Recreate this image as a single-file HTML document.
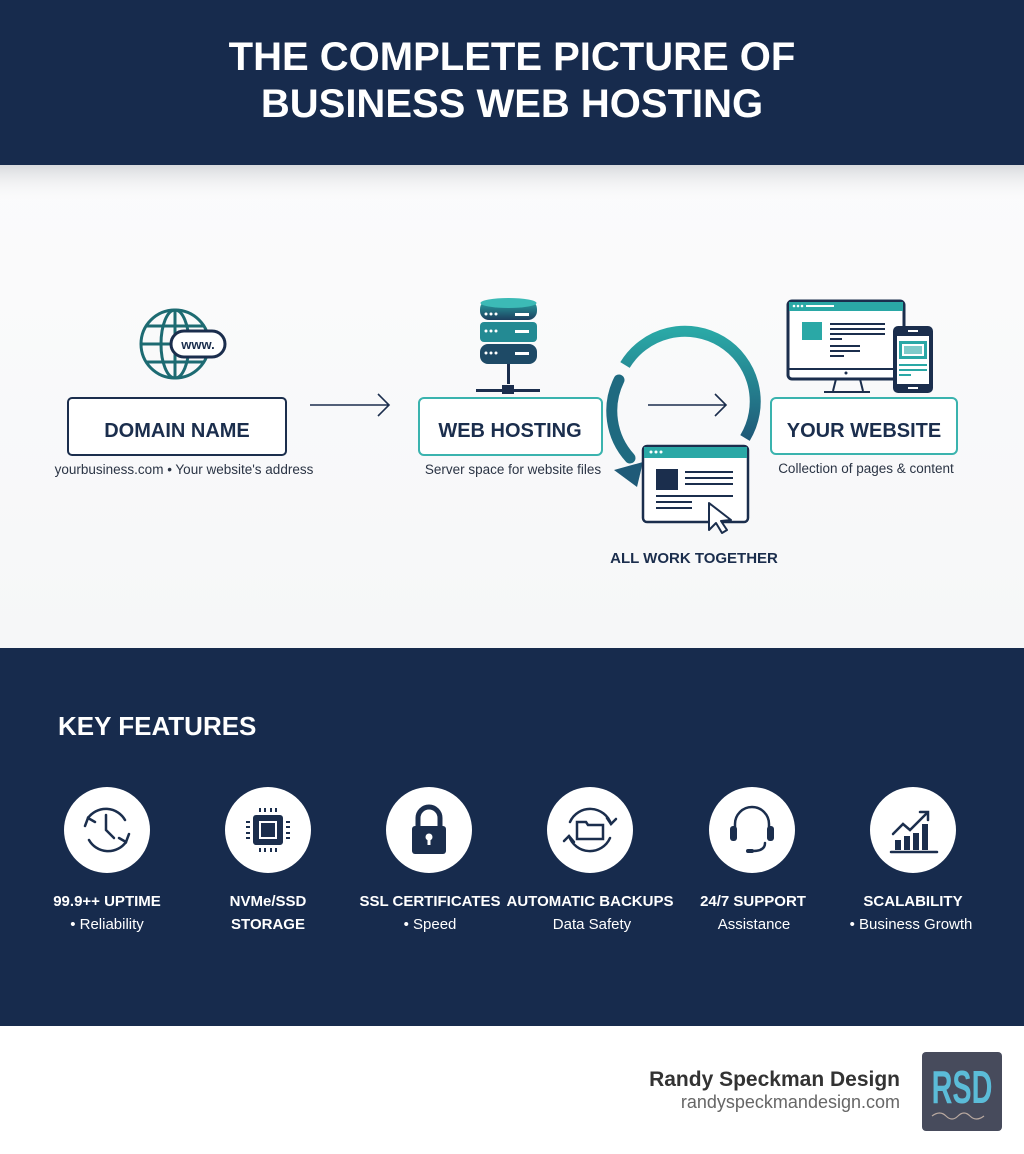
<!DOCTYPE html>
<html><head><meta charset="utf-8"><style>
html,body{margin:0;padding:0;width:1024px;height:1154px;overflow:hidden;background:#fff;font-family:"Liberation Sans",sans-serif}
</style></head><body>
<svg width="1024" height="1154" viewBox="0 0 1024 1154" xmlns="http://www.w3.org/2000/svg" font-family="Liberation Sans, sans-serif">
<defs>
<linearGradient id="sh" x1="0" y1="0" x2="0" y2="1"><stop offset="0" stop-color="#d8dadd"/><stop offset="1" stop-color="#ffffff" stop-opacity="0"/></linearGradient>
<linearGradient id="bg" x1="0" y1="0" x2="0" y2="1"><stop offset="0" stop-color="#fbfbfc"/><stop offset="1" stop-color="#f6f7f8"/></linearGradient>
<linearGradient id="arc" x1="0" y1="0" x2="0" y2="1"><stop offset="0" stop-color="#2aa8a6"/><stop offset="1" stop-color="#1f5a78"/></linearGradient>
<linearGradient id="srv" x1="0" y1="0" x2="0" y2="1"><stop offset="0" stop-color="#2aa8a6"/><stop offset="1" stop-color="#1d3f5e"/></linearGradient>
</defs>
<rect x="0" y="165" width="1024" height="483" fill="url(#bg)"/>
<rect x="0" y="165" width="1024" height="40" fill="url(#sh)"/>
<rect x="0" y="0" width="1024" height="165" fill="#172b4d"/>
<text x="512" y="70" text-anchor="middle" fill="#fff" font-size="40" font-weight="bold">THE COMPLETE PICTURE OF</text>
<text x="512" y="117" text-anchor="middle" fill="#fff" font-size="40" font-weight="bold">BUSINESS WEB HOSTING</text>

<g fill="none" stroke="#1d6b72" stroke-width="3">
<circle cx="175" cy="344" r="34"/>
<ellipse cx="175" cy="344" rx="14" ry="34"/>
<line x1="175" y1="310" x2="175" y2="378"/>
<line x1="141" y1="344" x2="209" y2="344"/>
<path d="M147 326 H203 M147 362 H203"/>
</g>
<rect x="171" y="331" width="54" height="26" rx="13" fill="#fff" stroke="#1b2e4d" stroke-width="3"/>
<text x="198" y="349" text-anchor="middle" font-size="13" font-weight="bold" fill="#1b2e4d">www.</text>

<g>
<rect x="480" y="300" width="57" height="20" rx="9" fill="url(#srv)"/>
<rect x="480" y="322" width="57" height="20" rx="4" fill="#238a93"/>
<rect x="480" y="344" width="57" height="20" rx="8" fill="#1e4a66"/>
<ellipse cx="508.5" cy="303" rx="28" ry="5" fill="#3cbab6"/>
<g fill="#fff"><circle cx="486" cy="331" r="1.5"/><circle cx="491" cy="331" r="1.5"/><circle cx="496" cy="331" r="1.5"/><rect x="515" y="330" width="14" height="3"/>
<circle cx="486" cy="353" r="1.5"/><circle cx="491" cy="353" r="1.5"/><circle cx="496" cy="353" r="1.5"/><rect x="515" y="352" width="14" height="3"/>
<circle cx="486" cy="314" r="1.5"/><circle cx="491" cy="314" r="1.5"/><circle cx="496" cy="314" r="1.5"/><rect x="515" y="313" width="14" height="3"/></g>
<rect x="507" y="364" width="3" height="20" fill="#1b2e4d"/>
<rect x="476" y="389" width="64" height="3" fill="#1b2e4d"/>
<rect x="502" y="385" width="12" height="9" fill="#1b2e4d"/>
</g>

<rect x="788" y="301" width="116" height="78" rx="4" fill="#fff" stroke="#1b2e4d" stroke-width="3"/>
<rect x="789" y="302" width="114" height="9" fill="#2aa8a6"/>
<g fill="#fff"><circle cx="794" cy="306" r="1.3"/><circle cx="798" cy="306" r="1.3"/><circle cx="802" cy="306" r="1.3"/><rect x="806" y="305" width="28" height="2"/></g>
<line x1="789" y1="369" x2="903" y2="369" stroke="#1b2e4d" stroke-width="2"/>
<rect x="802" y="322" width="20" height="18" fill="#2aa8a6"/>
<g stroke="#1b2e4d" stroke-width="2"><path d="M830 324h55M830 329h55M830 334h55M830 339h12M830 346h30M830 351h30M830 356h14"/><path d="M836 379l-3 12M860 379l3 12M824 392h46"/></g>
<circle cx="846" cy="373" r="1.5" fill="#1b2e4d"/>
<rect x="893" y="326" width="40" height="67" rx="5" fill="#1b2e4d"/>
<rect x="897" y="336" width="32" height="48" fill="#fff"/>
<rect x="899" y="341" width="28" height="18" fill="#2aa8a6"/><rect x="902" y="344" width="22" height="12" fill="#fff"/><rect x="904" y="346" width="18" height="8" fill="#2aa8a6" opacity=".6"/>
<g stroke="#2aa8a6" stroke-width="2"><path d="M899 365h28M899 370h28M899 375h12"/></g>
<rect x="908" y="330" width="10" height="2" fill="#fff"/><rect x="908" y="387" width="10" height="2" fill="#fff"/>

<rect x="68" y="398" width="218" height="57" rx="4" fill="#fff" stroke="#1b2e4d" stroke-width="2"/>
<text x="177" y="437" text-anchor="middle" font-size="20" font-weight="bold" fill="#1b2e4d">DOMAIN NAME</text>
<text x="184" y="474" text-anchor="middle" font-size="13.5" fill="#2b3445">yourbusiness.com • Your website's address</text>
<path d="M310 405H388M378 394l11 11-11 11" fill="none" stroke="#1b2e4d" stroke-width="1.6"/>
<rect x="419" y="398" width="183" height="57" rx="5" fill="#fff" stroke="#3ab3ae" stroke-width="2"/>
<text x="510" y="437" text-anchor="middle" font-size="20" font-weight="bold" fill="#1b2e4d">WEB HOSTING</text>
<text x="513" y="474" text-anchor="middle" font-size="13.5" fill="#2b3445">Server space for website files</text>

<path d="M625 365 A70 70 0 0 1 745 438" fill="none" stroke="url(#arc)" stroke-width="11"/>
<path d="M619 380 A70 70 0 0 0 630 458" fill="none" stroke="#1f6a80" stroke-width="11" stroke-linecap="round"/>
<path d="M614 470 L643 462 L637 487 Z" fill="#1f5a78"/>
<path d="M648 405H725M715 394l11 11-11 11" fill="none" stroke="#1b2e4d" stroke-width="1.6"/>

<rect x="771" y="398" width="186" height="56" rx="5" fill="#fff" stroke="#3ab3ae" stroke-width="2"/>
<text x="864" y="437" text-anchor="middle" font-size="20" font-weight="bold" fill="#1b2e4d">YOUR WEBSITE</text>
<text x="866" y="473" text-anchor="middle" font-size="13.5" fill="#2b3445">Collection of pages &amp; content</text>

<rect x="643" y="446" width="105" height="76" rx="4" fill="#fff" stroke="#1b2e4d" stroke-width="2.5"/>
<rect x="644" y="447" width="103" height="11" fill="#2aa8a6"/>
<g fill="#fff"><circle cx="651" cy="452" r="1.5"/><circle cx="656" cy="452" r="1.5"/><circle cx="661" cy="452" r="1.5"/></g>
<rect x="656" y="469" width="22" height="21" fill="#1b2e4d"/>
<g stroke="#1b2e4d" stroke-width="2"><path d="M685 472h48M685 478h48M685 484h48M656 496h77M656 502h36M656 508h36"/></g>
<path d="M709 503 L709 530 L716 523 L722 533 L727 530 L721 521 L731 520 Z" fill="#fff" stroke="#1b2e4d" stroke-width="2" stroke-linejoin="round"/>
<text x="694" y="563" text-anchor="middle" font-size="15" font-weight="bold" fill="#1b2e4d">ALL WORK TOGETHER</text>

<rect x="0" y="648" width="1024" height="378" fill="#172b4d"/>
<text x="58" y="735" font-size="26" font-weight="bold" fill="#fff">KEY FEATURES</text>
<g fill="#fff"><circle cx="107" cy="830" r="43"/><circle cx="268" cy="830" r="43"/><circle cx="429" cy="830" r="43"/><circle cx="590" cy="830" r="43"/><circle cx="752" cy="830" r="43"/><circle cx="913" cy="830" r="43"/></g>
<g fill="none" stroke="#1b2e4d" stroke-width="2.5" stroke-linecap="round">
<path d="M88 818 A22 22 0 0 1 125 820"/><path d="M126 842 A22 22 0 0 1 89 840"/><path d="M85 826 l3-8 7 4"/><path d="M129 834 l-3 8-7-4"/>
<path d="M106 815 v15 l8 8"/>
<path d="M570 822 A22 22 0 0 1 611 824"/><path d="M610 838 A22 22 0 0 1 569 836"/><path d="M607 818 l4 6 5-5"/><path d="M574 842 l-5-6-5 5"/>
<path d="M577 822 h9 l2 3 h15 v14 h-26 z"/>
<path d="M735 830 v-6 a17 17 0 0 1 34 0 v6"/><path d="M765 843 q0 8 -12 8"/>
<path d="M893 834 l10-10 7 6 17-17"/><path d="M920 812 h8 v8"/><path d="M891 852 h46"/>
</g>
<g fill="#1b2e4d">
<rect x="730" y="826" width="7" height="15" rx="3"/><rect x="767" y="826" width="7" height="15" rx="3"/><rect x="746" y="849" width="8" height="4" rx="2"/>
<rect x="895" y="840" width="6" height="10"/><rect x="904" y="836" width="6" height="14"/><rect x="913" y="833" width="6" height="17"/><rect x="922" y="824" width="6" height="26"/>
<rect x="412" y="826" width="34" height="28" rx="3"/>
<rect x="253" y="815" width="30" height="30" rx="3"/>
</g>
<path d="M418 826 v-8 a11 11 0 0 1 22 0 v8" fill="none" stroke="#1b2e4d" stroke-width="5"/>
<circle cx="429" cy="837" r="3.5" fill="#fff"/><rect x="427.5" y="838" width="3" height="7" fill="#fff"/>
<rect x="259" y="821" width="18" height="18" fill="#fff"/><rect x="261" y="823" width="14" height="14" fill="#1b2e4d"/>
<g stroke="#1b2e4d" stroke-width="2"><path d="M260 808v4M265 808v4M271 808v4M276 808v4M260 848v4M265 848v4M271 848v4M276 848v4M246 822h4M246 827h4M246 833h4M246 838h4M286 822h4M286 827h4M286 833h4M286 838h4"/></g>

<g fill="#fff" font-size="15" text-anchor="middle">
<text x="107" y="906" font-weight="bold">99.9++ UPTIME</text><text x="107" y="929">• Reliability</text>
<text x="268" y="906" font-weight="bold">NVMe/SSD</text><text x="268" y="929" font-weight="bold">STORAGE</text>
<text x="430" y="906" font-weight="bold">SSL CERTIFICATES</text><text x="430" y="929">• Speed</text>
<text x="590" y="906" font-weight="bold">AUTOMATIC BACKUPS</text><text x="592" y="929">Data Safety</text>
<text x="753" y="906" font-weight="bold">24/7 SUPPORT</text><text x="754" y="929">Assistance</text>
<text x="913" y="906" font-weight="bold">SCALABILITY</text><text x="911" y="929">• Business Growth</text>
</g>

<text x="900" y="1086" text-anchor="end" font-size="21" font-weight="bold" fill="#333">Randy Speckman Design</text>
<text x="900" y="1108" text-anchor="end" font-size="18" fill="#666">randyspeckmandesign.com</text>
<rect x="922" y="1052" width="80" height="79" rx="4" fill="#474b5c"/>
<g transform="translate(962 1103) scale(0.72 1.15)"><text x="0" y="0" text-anchor="middle" font-size="40" font-weight="bold" fill="#5bbcd8">RSD</text></g>
<path d="M932 1116 q8-6 14 0 q6 6 12 0 q6-6 12 0 q6 6 14 0" fill="none" stroke="#b9a9a0" stroke-width="1.2"/>
</svg>
</body></html>
